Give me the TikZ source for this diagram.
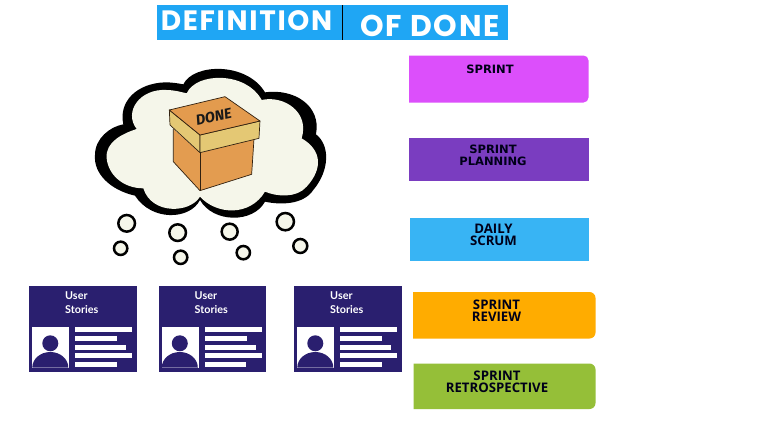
\documentclass[tikz,border=0pt]{standalone}
\usepackage{fontspec}
\setmainfont{Open Sans}
\newfontfamily\titlefont[LetterSpace=6]{Poppins}
\newfontfamily\dejafont{DejaVu Sans}
\newfontfamily\cardfont{Lato}
\newfontfamily\handfont{Fira Sans}
\definecolor{titleblue}{HTML}{1FA6F4}
\definecolor{cloudfill}{HTML}{F5F6EA}
\definecolor{cardblue}{HTML}{2A1F6F}
\definecolor{boxtop}{HTML}{E39B4E}
\definecolor{boxlid}{HTML}{E4C874}
\definecolor{boxc}{HTML}{E39C50}
\definecolor{cmagenta}{HTML}{DC4FFB}
\definecolor{cpurple}{HTML}{7A3DC0}
\definecolor{csky}{HTML}{38B4F4}
\definecolor{corange}{HTML}{FFAC00}
\definecolor{cgreen}{HTML}{95BF38}
\newcommand{\rbox}[6]{\fill[#5] (#1,#2) -- ({#3-#6},#2) arc[start angle=-90,end angle=0,radius=#6] -- (#3,{#4-#6}) arc[start angle=0,end angle=90,radius=#6] -- (#1,#4) -- cycle;}
\newcommand{\ucard}[2]{%
  \fill[cardblue] (#1,286) rectangle ({#1+107.5},372);
  \fill[white] ({#1+3},326.7) rectangle ({#1+40},367.5);
  \fill[cardblue] ({#1+21.3},343.3) circle[radius=8];
  \fill[cardblue] ({#1+3.3},367.5) arc[x radius=18,y radius=15.5,start angle=180,end angle=360] -- cycle;
  \foreach \ya/\w in {326.7/57,335.7/42.3,344.7/51,353.4/57,362.4/41.7}
    \fill[white] ({#1+46},\ya) rectangle ({#1+46+\w},{\ya+5});
  \node[cardtext] (#2) at ({#1+36},302.5) {User\\[1.2pt]Stories};}
\tikzset{
  boxlabel/.style={font=\bfseries\fontsize{13.2}{12}\selectfont,align=center,text=black!90!blue,inner sep=0pt},
  dejalabel/.style={boxlabel,font=\dejafont\bfseries\fontsize{11.5}{12}\selectfont},
  cardtext/.style={font=\cardfont\bfseries\fontsize{10.8}{12.5}\selectfont,align=left,text=white,inner sep=0pt,anchor=west},
  titletext/.style={text=white,inner sep=0pt},
  boxedge/.style={draw=black!75!brown,line width=.7pt,line join=round},
  bubble/.style={draw=black,fill=cloudfill,line width=2.5pt},
}
\begin{document}
\begin{tikzpicture}[x=1pt,y=-1pt]
\useasboundingbox (0,0) rectangle (768,432);
\fill[white] (0,0) rectangle (768,432);
% title
\fill[titleblue] (157,5) rectangle (507.5,40);
\draw[black,line width=.8pt] (342,5) -- (342,39.5);
\node[titletext,font=\titlefont\bfseries\fontsize{28}{30}\selectfont] (tleft) at (246.5,21) {DEFINITION};
\node[titletext,font=\titlefont\bfseries\fontsize{30}{32}\selectfont] (tright) at (430,25.5) {OF DONE};
% cloud
\begin{scope}[shift={(80,55)},x=.3333pt,y=-.3333pt]
\fill[black] (45,300) .. controls (45,250) and (90,215) .. (130,208)
  .. controls (115,140) and (170,85) .. (255,82)
  .. controls (275,82) and (295,85) .. (310,88)
  .. controls (340,25) and (500,20) .. (555,112)
  .. controls (640,100) and (725,150) .. (708,238)
  .. controls (750,270) and (750,345) .. (700,405)
  .. controls (670,450) and (600,450) .. (555,440)
  .. controls (520,505) and (400,505) .. (360,435)
  .. controls (330,495) and (215,500) .. (165,422)
  .. controls (90,405) and (40,355) .. (45,300) -- cycle;
\fill[cloudfill] (80,310) .. controls (75,260) and (130,235) .. (170,222)
  .. controls (130,170) and (180,100) .. (260,105)
  .. controls (280,105) and (300,110) .. (320,115)
  .. controls (350,50) and (500,50) .. (545,135)
  .. controls (610,120) and (690,170) .. (665,250)
  .. controls (725,285) and (730,340) .. (680,395)
  .. controls (650,430) and (590,425) .. (555,410)
  .. controls (510,485) and (410,480) .. (360,425)
  .. controls (330,475) and (215,480) .. (190,400)
  .. controls (130,400) and (85,360) .. (80,310) -- cycle;
% box
\fill[boxc] (280,222) -- (280,320) -- (360,407) -- (360,293) -- cycle;
\fill[boxc] (360,293) -- (522,252) -- (515,358) -- (360,407) -- cycle;
\draw[boxedge] (280,222) -- (280,320) -- (360,407) -- (515,358) -- (522,252);
\draw[boxedge] (360,293) -- (360,407);
\filldraw[boxedge,fill=boxlid] (268,165) -- (360,240) -- (360,293) -- (270,210) -- cycle;
\filldraw[boxedge,fill=boxlid] (360,240) -- (540,198) -- (537,250) -- (360,293) -- cycle;
\filldraw[boxedge,fill=boxtop] (268,165) -- (435,125) -- (540,198) -- (360,240) -- cycle;
\node[rotate=12,font=\handfont\bfseries\itshape\fontsize{14.5}{14}\selectfont,text=black!90,inner sep=0pt] (done) at (401,186) {DONE};
% bubbles
\foreach \cx/\cy/\r in {140/505/25,122/580/20,293/533/25,302/607/20,449/530/24,490/593/20,616/500/26,661/573/21}
  \draw[bubble] (\cx,\cy) circle[radius=\r];
\end{scope}
% cards
\ucard{29}{c1}
\ucard{158.5}{c2}
\ucard{294}{c3}
% right boxes
\rbox{409}{55.5}{588.5}{102.5}{cmagenta}{5}
\node[dejalabel] (sprint) at (490,69) {SPRINT};
\fill[cpurple] (409,138) rectangle (589,180.5);
\node[dejalabel] (planning) at (493,155) {SPRINT\\PLANNING};
\fill[csky] (410,217.5) rectangle (589,261);
\node[boxlabel] (daily) at (493.5,234.5) {DAILY\\SCRUM};
\rbox{413}{292}{595.5}{338.5}{corange}{6}
\node[boxlabel] (review) at (496.5,311) {SPRINT\\REVIEW};
\rbox{413.5}{363.5}{595.5}{409}{cgreen}{6}
\node[boxlabel] (retro) at (497,381.5) {SPRINT\\RETROSPECTIVE};
\end{tikzpicture}
\end{document}
